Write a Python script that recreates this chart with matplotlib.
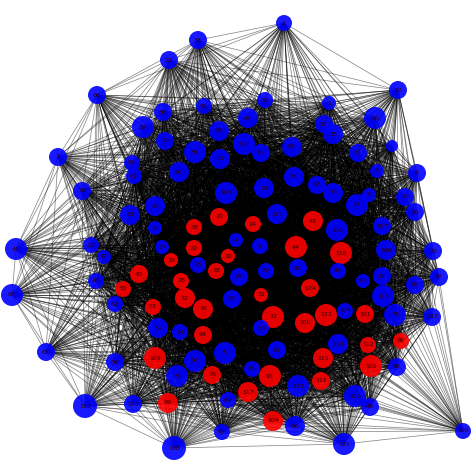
import matplotlib
matplotlib.use("Agg")
import matplotlib.pyplot as plt
import numpy as np
from matplotlib.collections import LineCollection

labels = ["2","33","22","60","86","82","92","50","1","12","44","26","57","35","10","95","97","89","61","88","3","37","","81","62","75","90","8","9","34","48","73","16","103","18","6","27","13","21","56","58","20","113","24","43","38","107","6","102","","7","","45","22","17","22","4","5","44","118","106","73","47","19","10","15","18","29","39","42","46","40","43","28","61","87","92","88","55","32","33","31","124","116","60","63","53","36","72","100","122","104","101","78","123","51","14","64","30","65","77","68","119","112","96","86","109","60","115","105","85","54","91","75","79","123","111","120","48","110","127","99","69","117","104","96","97","126","121","109"]
xs = [284,198,169,97,163,143,204,265,329,398,248,375,324,333,165,219,244,195,261,292,58,358,392,132,134,220,179,417,369,294,317,333,82,226,264,377,357,405,155,415,130,219,277,253,313,194,382,155,337,398,15,90,16,91,162,194,236,260,296,341,386,433,104,171,228,198,216,239,266,298,338,139,96,181,363,382,439,12,123,185,232,261,310,383,415,115,153,203,273,305,326,345,365,395,432,158,180,203,261,46,225,277,338,368,401,115,155,195,323,371,397,252,270,177,212,298,321,355,370,85,133,168,228,248,273,295,222,174,344,463]
ys = [23,40,60,95,112,127,106,100,103,90,118,118,124,134,141,131,144,152,153,147,157,153,146,163,176,159,172,173,195,177,185,193,191,193,188,171,205,197,206,212,215,217,214,224,221,227,226,228,230,232,240,240,249,245,247,248,240,246,247,253,250,251,257,260,256,265,271,277,271,268,271,274,281,281,281,276,277,295,289,298,299,295,288,296,285,304,307,309,317,323,315,311,314,315,317,328,332,335,328,352,353,350,344,345,341,362,358,361,358,366,367,369,376,376,375,386,381,396,407,406,404,403,400,392,421,426,432,448,444,431]
red_idx = {41,43,44,45,55,58,59,63,64,66,71,73,78,79,81,82,86,87,88,89,90,92,97,103,104,106,108,109,112,114,116,121,123,124}
radius = [8,9,9,9,9,11,8,8,7,9,10,11,9,10,9,10,11,11,9,10,9,9,6,8,8,10,10,9,7,10,9,10,9,11,10,7,11,9,10,9,10,9,10,8,10,8,9,7,11,0,0,0,11,8,7,8,7,8,11,11,10,9,7,7,7,8,8,9,8,9,8,9,8,8,7,9,9,11,8,10,9,7,9,11,9,8,8,10,11,10,11,8,9,11,9,10,8,9,8,9,11,9,10,8,8,9,11,11,10,11,9,8,11,11,9,11,9,11,9,12,9,10,8,10,10,10,8,12,11,8]

pts = np.array([xs, ys], float).T
n = len(pts)
segs = []
for i in range(n):
    if radius[i] == 0:
        continue
    for j in range(i + 1, n):
        if radius[j] == 0:
            continue
        d = np.hypot(*(pts[i] - pts[j]))
        if d < 250:
            segs.append([pts[i], pts[j]])

fig = plt.figure(figsize=(4.74, 4.74), dpi=100)
ax = fig.add_axes([0, 0, 1, 1])
ax.set_xlim(0, 474); ax.set_ylim(474, 0); ax.axis("off")
ax.add_collection(LineCollection(segs, colors="black", linewidths=0.5, alpha=0.5))
for i in range(n):
    if radius[i] == 0:
        continue
    c = "#ff0000" if i in red_idx else "#0000ff"
    ax.scatter(xs[i], ys[i], s=(radius[i] * 2 * 0.72) ** 2, color=c, alpha=0.9, zorder=3, edgecolors="none")
    ax.text(xs[i], ys[i], labels[i], fontsize=4.5, ha="center", va="center", color="#330000", zorder=4)
fig.savefig("out.png", dpi=100)
